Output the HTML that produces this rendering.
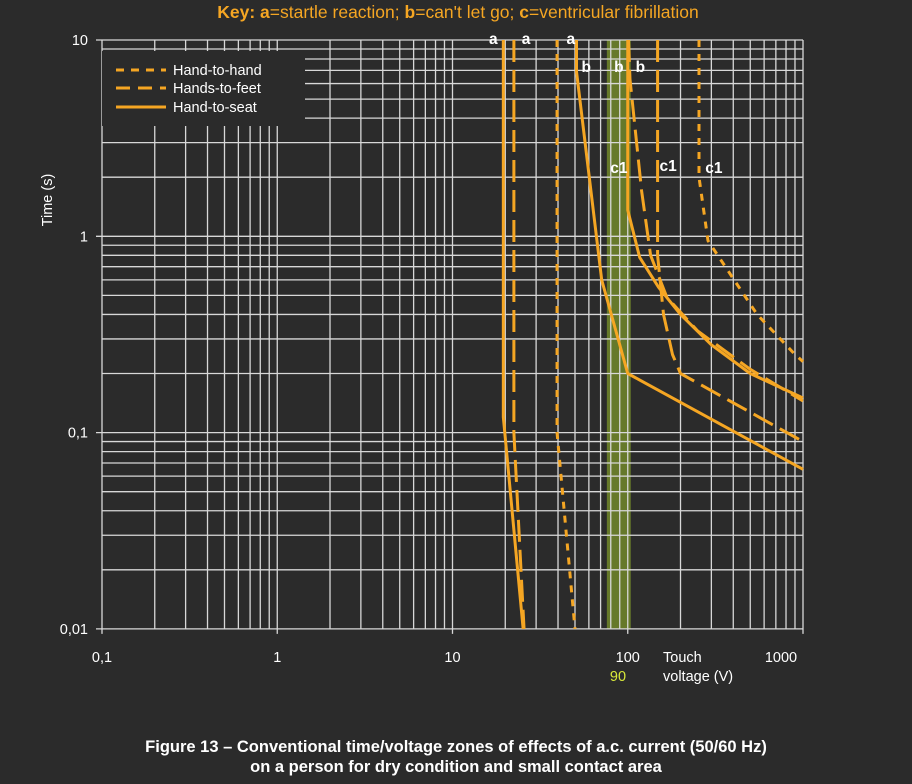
<!DOCTYPE html>
<html><head><meta charset="utf-8">
<style>
html,body{margin:0;padding:0;background:#2b2b2b;}
svg{display:block;font-family:"Liberation Sans",Arial,sans-serif;}
</style></head>
<body>
<svg id="chart" width="912" height="784" viewBox="0 0 912 784">
<rect x="0" y="0" width="912" height="784" fill="#2b2b2b"/>
<text x="458" y="18" text-anchor="middle" font-size="17.5" fill="#f5a623"><tspan font-weight="bold">Key: a</tspan>=startle reaction; <tspan font-weight="bold">b</tspan>=can't let go; <tspan font-weight="bold">c</tspan>=ventricular fibrillation</text>
<g id="band"></g>
<g id="grid"></g>
<rect x="102" y="51" width="203" height="75" fill="#2b2b2b"/>
<g id="series"></g>
<g id="labels"></g>
<g>
  <line x1="116" y1="70" x2="166" y2="70" stroke="#f5a623" stroke-width="3" stroke-dasharray="8,7"/>
  <text x="173" y="75" font-size="14.5" fill="#fff">Hand-to-hand</text>
  <line x1="116" y1="88" x2="166" y2="88" stroke="#f5a623" stroke-width="3" stroke-dasharray="14,8"/>
  <text x="173" y="93" font-size="14.5" fill="#fff">Hands-to-feet</text>
  <line x1="116" y1="107" x2="166" y2="107" stroke="#f5a623" stroke-width="3"/>
  <text x="173" y="112" font-size="14.5" fill="#fff">Hand-to-seat</text>
</g>
<text transform="translate(52,200) rotate(-90)" text-anchor="middle" font-size="14.5" fill="#fff">Time (s)</text>
<text x="663" y="662" font-size="14.5" fill="#fff">Touch</text>
<text x="663" y="681" font-size="14.5" fill="#fff">voltage (V)</text>
<text x="618" y="681" text-anchor="middle" font-size="14.5" fill="#d8e83a">90</text>
<text x="456" y="752" text-anchor="middle" font-size="16.5" font-weight="bold" fill="#fff">Figure 13 – Conventional time/voltage zones of effects of a.c. current (50/60 Hz)</text>
<text x="456" y="772" text-anchor="middle" font-size="16.5" font-weight="bold" fill="#fff">on a person for dry condition and small contact area</text>
</svg>
<script>
const xTicks=[0.1,1,10,100,1000];
const xTickLabels=["0,1","1","10","100","1000"];
const yTicks=[10,1,0.1,0.01];
const yTickLabels=["10","1","0,1","0,01"];
const bandRange=[76,104];
// Hand-to-seat (solid)
const seatA_V=[19.5,19.5,25.3]; const seatA_T=[10,0.12,0.01];
const seatB_V=[51,51,71,100,1000]; const seatB_T=[10,6.9,0.6,0.2,0.065];
const seatC_V=[100,100,117,150,200,300,500,1000]; const seatC_T=[10,1.36,0.78,0.55,0.4,0.28,0.2,0.15];
// Hands-to-feet (long dash)
const feetA_V=[22.4,22.4,25.6]; const feetA_T=[10,0.1,0.01];
const feetB_V=[101,103,120,135,167,250,500,1000]; const feetB_T=[10,6.3,1.7,0.8,0.49,0.33,0.21,0.145];
const feetC_V=[148,148,160,180,200,1000]; const feetC_T=[10,0.8,0.4,0.25,0.2,0.09];
// Hand-to-hand (short dash)
const handA_V=[39.5,39.5,50]; const handA_T=[10,0.1,0.01];
const handC_V=[255,255,287,547,900,1000]; const handC_T=[10,2,0.95,0.4,0.25,0.23];
const labelText=["a","a","a","b","b","b","c1","c1","c1"];
const labelV=[19.5,30,54,58,89,118,89,170,310];
const labelT=[10,10,10,7.2,7.2,7.2,2.2,2.25,2.2];

const NS="http://www.w3.org/2000/svg";
const X0=102,XD=175.25,Y0=40,YD=196.3;
function xs(v){return X0+XD*(Math.log10(v)+1);}
function ys(t){return Y0+YD*(1-Math.log10(t));}
function mk(tag,attrs,parent){const e=document.createElementNS(NS,tag);for(const k in attrs)e.setAttribute(k,attrs[k]);parent.appendChild(e);return e;}

const grid=document.getElementById('grid');
for(let d=-1;d<3;d++){for(let m=1;m<10;m++){const v=m*Math.pow(10,d);const x=xs(v);
 const l=mk('line',{x1:x,x2:x,y1:Y0,y2:ys(0.01)+(m==1?5:0),stroke:'#d8d8d8','stroke-width':1.3},grid);
 
 }}
{const l=mk('line',{x1:xs(1000),x2:xs(1000),y1:Y0,y2:ys(0.01)+5,stroke:'#d8d8d8','stroke-width':1.3},grid);
 
 }
for(let d=-2;d<1;d++){for(let m=1;m<10;m++){const t=m*Math.pow(10,d);const y=ys(t);
 const l=mk('line',{x1:X0-(m==1?6:0),x2:xs(1000),y1:y,y2:y,stroke:'#d8d8d8','stroke-width':1.3},grid);
 
 }}
{const l=mk('line',{x1:X0-6,x2:xs(1000),y1:ys(10),y2:ys(10),stroke:'#d8d8d8','stroke-width':1.3},grid);
 
 }

const band=document.getElementById('band');
{const r=mk('rect',{x:xs(bandRange[0]),y:Y0,width:xs(bandRange[1])-xs(bandRange[0]),height:ys(0.01)-Y0,fill:'#66792a'},band);
 
 }

const lab=document.getElementById('labels');
xTicks.forEach((v,i)=>{const t=mk('text',{x:i==4?xs(v)-22:xs(v),y:662,'text-anchor':'middle','font-size':14.5,fill:'#fff'},lab);t.textContent=xTickLabels[i];
 
 });
yTicks.forEach((v,i)=>{const t=mk('text',{x:88,y:ys(v)+5,'text-anchor':'end','font-size':14.5,fill:'#fff'},lab);t.textContent=yTickLabels[i];
 
 });

const ser=document.getElementById('series');
function line(V,T,dash,name){const pts=V.map((v,i)=>xs(v)+','+ys(T[i])).join(' ');
 const p=mk('polyline',{points:pts,fill:'none',stroke:'#f5a623','stroke-width':3,'stroke-linejoin':'round'},ser);
 if(dash)p.setAttribute('stroke-dasharray',dash);
 
 }
line(seatA_V,seatA_T,null,'hand-to-seat-a');
line(seatB_V,seatB_T,null,'hand-to-seat-b');
line(seatC_V,seatC_T,null,'hand-to-seat-c1');
line(feetA_V,feetA_T,'22,8','hands-to-feet-a');
line(feetB_V,feetB_T,'22,8','hands-to-feet-b');
line(feetC_V,feetC_T,'22,8','hands-to-feet-c1');
line(handA_V,handA_T,'7,7','hand-to-hand-a');
line(handC_V,handC_T,'7,7','hand-to-hand-c1');
labelText.forEach((s,i)=>{const t=mk('text',{x:xs(labelV[i])-(i<3?10:0),y:ys(labelT[i])+4,'text-anchor':'middle','font-size':15.5,'font-weight':'bold',fill:'#fff'},lab);t.textContent=s;
 
 });
</script>
</body></html>
